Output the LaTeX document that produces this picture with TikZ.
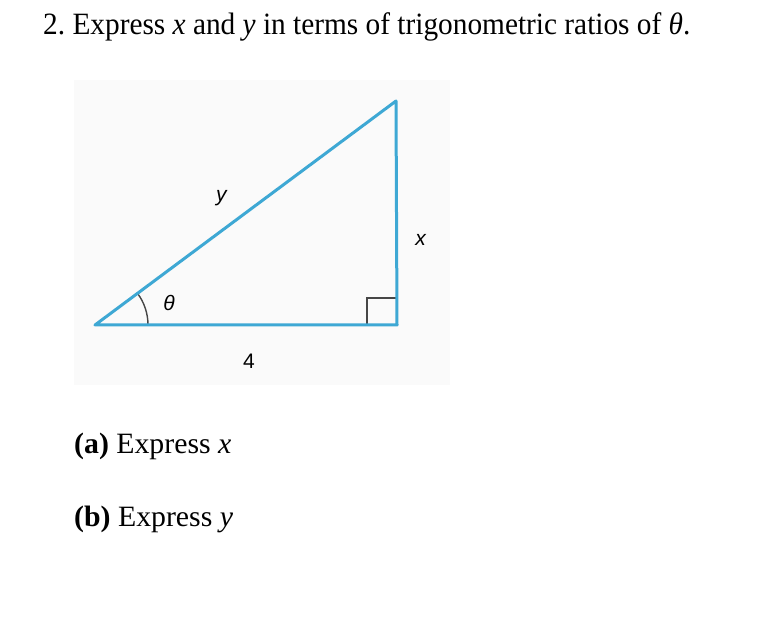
\documentclass[tikz,border=0pt]{standalone}
\usepackage{fontspec}
\usetikzlibrary{calc}
\setmainfont{Liberation Serif}
\newfontfamily\lblfont{Liberation Sans}
\definecolor{tri}{RGB}{62,168,212}
\definecolor{boxgray}{RGB}{250,250,250}
\definecolor{sqgray}{RGB}{70,70,70}
\frenchspacing
\begin{document}
\begin{tikzpicture}[x=1pt,y=-1pt,
  side/.style={draw=tri,line width=3pt,line join=round,line cap=round},
  lbl/.style={font=\lblfont\fontsize{21}{23}\selectfont,inner sep=0pt},
  txt/.style={anchor=base west,inner sep=0pt}]
\useasboundingbox (0,0) rectangle (766,636);
\fill[white] (0,0) rectangle (766,636);
\fill[boxgray] (74,80) rectangle (450,385);
\node[txt,font=\fontsize{31}{34}\selectfont] (title) at (43,34.5) {\scalebox{0.946}[1]{2. Express \textit{x} and \textit{y} in terms of trigonometric ratios of \textit{θ}.}};
\coordinate (A) at (95,325);
\coordinate (B) at (397,325);
\coordinate (C) at (396,101);
\draw[sqgray,line width=1.6pt] (367,325) -- (367,298) -- (397,298);
\draw[sqgray,line width=1.4pt] ($(A)+(53,0)$) arc[start angle=0,end angle=-36.6,radius=53];
\draw[side] (A) -- (B) -- (C) -- cycle;
\node[lbl] (th) at (169,303) {\textit{θ}};
\node[lbl] (ly) at (222,198) {\textit{y}};
\node[lbl] (lx) at (421,240) {\textit{x}};
\node[lbl] (l4) at (249,361) {4};
\node[txt,font=\fontsize{29.5}{32}\selectfont] (pa) at (74,453) {\scalebox{1.01}[1]{\textbf{(a)} Express \textit{x}}};
\node[txt,font=\fontsize{29.5}{32}\selectfont] (pb) at (74,526) {\scalebox{1.01}[1]{\textbf{(b)} Express \textit{y}}};
\end{tikzpicture}
\end{document}
